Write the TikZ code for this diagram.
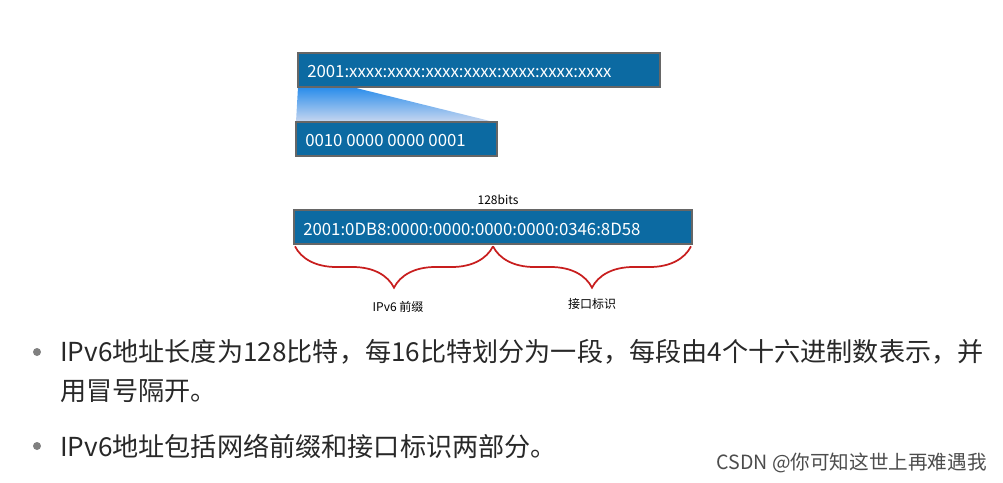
\documentclass[tikz,border=0pt]{standalone}
\usepackage{fontspec}
\setmainfont{Noto Sans CJK SC}
\usetikzlibrary{decorations.pathreplacing}
\definecolor{boxblue}{RGB}{12,106,162}
\definecolor{braceRed}{RGB}{200,30,30}
\definecolor{txtgray}{RGB}{40,40,40}
\tikzset{
  bluebox/.style={draw=black!60,fill=boxblue,line width=0.8pt},
  boxtext/.style={anchor=west,text=white,font=\fontsize{12.6}{14}\selectfont,inner sep=0},
  bracestyle/.style={draw=braceRed,line width=1.3pt,decorate,decoration={brace,mirror,amplitude=31pt,raise=1pt}},
  small/.style={font=\fontsize{9}{10}\selectfont,text=black,inner sep=0},
  bullettext/.style={anchor=west,font=\fontsize{19.6}{25}\selectfont,text=txtgray,inner sep=0,align=left}
}
\begin{document}
\begin{tikzpicture}[x=0.75pt,y=-0.75pt]
\useasboundingbox (0,0) rectangle (1003,482);
\shade[top color={rgb,255:red,40;green,140;blue,235},bottom color={rgb,255:red,200;green,215;blue,240}]
  (298,87) -- (352,87) -- (494,122) -- (296,122) -- cycle;
\draw[bluebox] (298,53) rectangle (660,87);
\node[boxtext] (t1) at (307,72) {2001:xxxx:xxxx:xxxx:xxxx:xxxx:xxxx:xxxx};
\draw[bluebox] (296,122) rectangle (497,156);
\node[boxtext] (t2) at (305,141) {0010 0000 0000 0001};
\node[small] (bits) at (498,200) {128bits};
\draw[bluebox] (294,210) rectangle (692,244);
\node[boxtext] (t3) at (303,229) {2001:0DB8:0000:0000:0000:0000:0346:8D58};
\coordinate (b1) at (295,245);
\coordinate (b2) at (493,245);
\coordinate (b3) at (691,245);
\draw[bracestyle] (b1) -- (b2);
\draw[bracestyle] (b2) -- (b3);
\node[small] (l1) at (398,307) {IPv6 前缀};
\node[small] (l2) at (592,304) {接口标识};
\fill[gray] (37,352) circle (4);
\node[bullettext] (p1) at (60,352) {IPv6地址长度为128比特，每16比特划分为一段，每段由4个十六进制数表示，并};
\node[bullettext] (p1b) at (60,391) {用冒号隔开。};
\fill[gray] (37,446) circle (4);
\node[bullettext] (p2) at (60,446) {IPv6地址包括网络前缀和接口标识两部分。};
\node[anchor=east,font=\fontsize{14.7}{16}\selectfont,text=black!70,inner sep=0] (wm) at (987,463) {CSDN @你可知这世上再难遇我};
\end{tikzpicture}
\end{document}
